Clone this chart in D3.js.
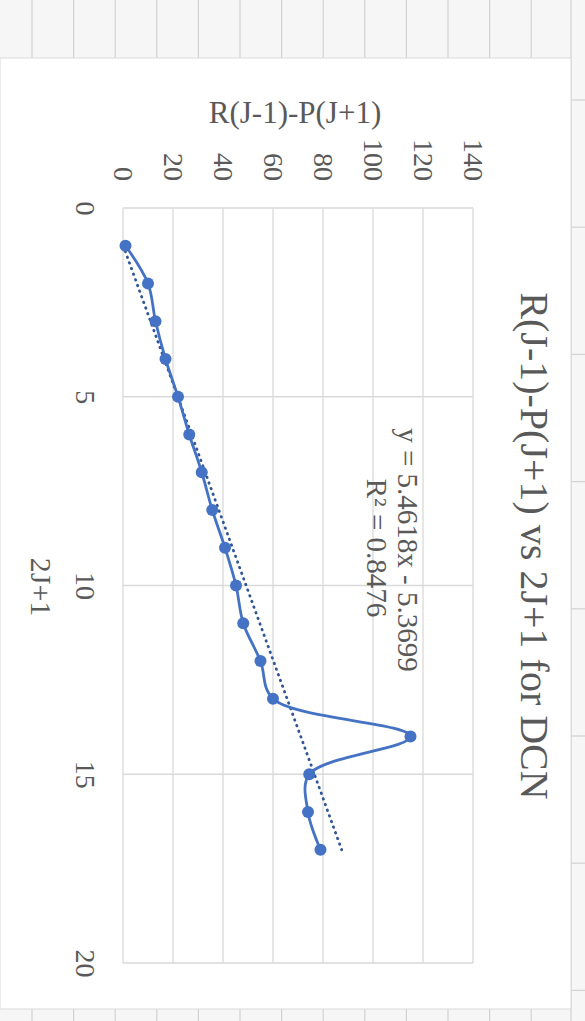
<!DOCTYPE html>
<html>
<head>
<meta charset="utf-8">
<script src="https://cdn.jsdelivr.net/npm/d3@7"></script>
<style>
  body { margin: 0; background: #f6f6f6; }
  svg { display: block; }
</style>
</head>
<body>
<div id="chart"></div>
<script>
// data
const xValues = [1, 2, 3, 4, 5, 6, 7, 8, 9, 10, 11, 12, 13, 14, 15, 16, 17];
const yValues = [1, 10, 13, 17, 22, 26.5, 31.5, 35.7, 40.8, 45.2, 48.1, 55, 60, 115, 74.5, 74, 79];
const xTicks = [0, 5, 10, 15, 20];
const yTicks = [0, 20, 40, 60, 80, 100, 120, 140];
const trendSlope = 5.4618;
const trendIntercept = -5.3699;

const title = "R(J-1)-P(J+1) vs 2J+1 for DCN";
const yTitle = "R(J-1)-P(J+1)";
const xTitle = "2J+1";

const width = 585, height = 1021;
const textColor = "#595959";
const blue = "#4472c4";
const serif = "'Liberation Serif', 'Times New Roman', serif";

const svg = d3.select("#chart")
  .append("svg")
  .attr("width", width)
  .attr("height", height);

// spreadsheet behind the chart
svg.append("rect").attr("width", width).attr("height", height).attr("fill", "#f6f6f6");
const sheet = svg.append("g").attr("stroke", "#d2d2d2").attr("stroke-width", 1.2);
d3.range(32, 560, 41.6).forEach(function (x) {
  sheet.append("line").attr("x1", x).attr("x2", x).attr("y1", 0).attr("y2", 58);
  sheet.append("line").attr("x1", x).attr("x2", x).attr("y1", 1009).attr("y2", height);
});
d3.range(100, height, 127.2).forEach(function (y) {
  sheet.append("line").attr("x1", 571).attr("x2", width).attr("y1", y).attr("y2", y);
});
sheet.append("line").attr("x1", 571).attr("x2", 571).attr("y1", 0).attr("y2", height);

// chart box is drawn upright and then turned 90 degrees like the photo
const boxW = 951, boxH = 571;
const chart = svg.append("g")
  .attr("transform", "translate(571,58) rotate(90)");

chart.append("rect")
  .attr("width", boxW).attr("height", boxH)
  .attr("fill", "#ffffff")
  .attr("stroke", "#d9d9d9");

const plot = { left: 150, right: 905, top: 98, bottom: 448 };

const x = d3.scaleLinear().domain([0, 20]).range([plot.left, plot.right]);
const y = d3.scaleLinear().domain([0, 140]).range([plot.bottom, plot.top]);

// gridlines
chart.append("g")
  .selectAll("line.h")
  .data(yTicks).enter()
  .append("line")
  .attr("x1", plot.left).attr("x2", plot.right)
  .attr("y1", function (d) { return y(d); })
  .attr("y2", function (d) { return y(d); })
  .attr("stroke", "#d9d9d9").attr("stroke-width", 1.3);

chart.append("g")
  .selectAll("line.v")
  .data(xTicks).enter()
  .append("line")
  .attr("x1", function (d) { return x(d); })
  .attr("x2", function (d) { return x(d); })
  .attr("y1", plot.top).attr("y2", plot.bottom)
  .attr("stroke", "#d9d9d9").attr("stroke-width", 1.3);

// axes (labels only, Excel style)
const xAxis = chart.append("g")
  .attr("transform", "translate(0," + plot.bottom + ")")
  .call(d3.axisBottom(x).tickValues(xTicks).tickSize(0).tickPadding(27));
const yAxis = chart.append("g")
  .attr("transform", "translate(" + plot.left + ",0)")
  .call(d3.axisLeft(y).tickValues(yTicks).tickSize(0).tickPadding(27));
[xAxis, yAxis].forEach(function (a) {
  a.select(".domain").remove();
  a.selectAll("text")
    .attr("fill", textColor)
    .style("font-family", serif)
    .style("font-size", "28px");
});

// trendline from the printed equation
const trendX = [xValues[0], xValues[xValues.length - 1]];
chart.append("line")
  .attr("x1", x(trendX[0])).attr("y1", y(trendSlope * trendX[0] + trendIntercept))
  .attr("x2", x(trendX[1])).attr("y2", y(trendSlope * trendX[1] + trendIntercept))
  .attr("stroke", "#2f5597")
  .attr("stroke-width", 2.8)
  .attr("stroke-linecap", "round")
  .attr("stroke-dasharray", "0.5,5.5");

// series
const points = xValues.map(function (d, i) { return [d, yValues[i]]; });
const line = d3.line()
  .x(function (d) { return x(d[0]); })
  .y(function (d) { return y(d[1]); })
  .curve(d3.curveCatmullRom.alpha(0.5));

chart.append("path")
  .datum(points)
  .attr("d", line)
  .attr("fill", "none")
  .attr("stroke", blue)
  .attr("stroke-width", 2.8);

chart.append("g")
  .selectAll("circle")
  .data(points).enter()
  .append("circle")
  .attr("cx", function (d) { return x(d[0]); })
  .attr("cy", function (d) { return y(d[1]); })
  .attr("r", 6)
  .attr("fill", blue);

// titles and labels
chart.append("text")
  .attr("x", 488).attr("y", 50)
  .attr("text-anchor", "middle")
  .attr("fill", textColor)
  .style("font-family", serif)
  .style("font-size", "40px")
  .text(title);

chart.append("text")
  .attr("transform", "translate(65,276) rotate(-90)")
  .attr("text-anchor", "middle")
  .attr("fill", textColor)
  .style("font-family", serif)
  .style("font-size", "31px")
  .text(yTitle);

chart.append("text")
  .attr("x", 529).attr("y", 540)
  .attr("text-anchor", "middle")
  .attr("fill", textColor)
  .style("font-family", serif)
  .style("font-size", "30px")
  .text(xTitle);

const eq = chart.append("text")
  .attr("text-anchor", "middle")
  .attr("fill", textColor)
  .style("font-family", serif)
  .style("font-size", "29px");
eq.append("tspan")
  .attr("x", 492).attr("y", 173)
  .text("y = " + trendSlope + "x - " + Math.abs(trendIntercept));
eq.append("tspan")
  .attr("x", 490).attr("y", 204)
  .text("R² = 0.8476");
</script>
</body>
</html>
